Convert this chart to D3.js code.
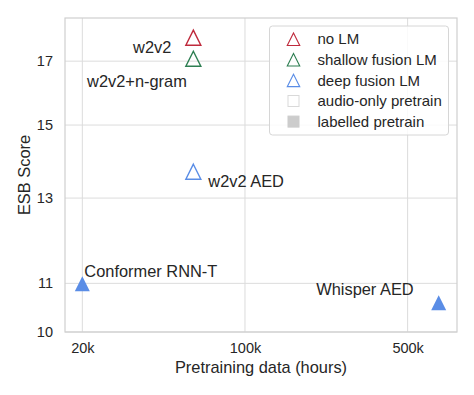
<!DOCTYPE html>
<html>
<head>
<meta charset="utf-8">
<script src="https://cdn.jsdelivr.net/npm/d3@7"></script>
<style>
  body { margin: 0; background: #fff; }
  text { font-family: "Liberation Sans", Arial, sans-serif; fill: #262626; }
</style>
</head>
<body>
<div id="chart"></div>
<script>
// data
var models   = ["w2v2", "w2v2+n-gram", "w2v2 AED", "Conformer RNN-T", "Whisper AED"];
var hours    = [60000, 60000, 60000, 20000, 680000];
var esb      = [17.8, 17.08, 13.69, 10.99, 10.59];
var lmType   = ["no LM", "shallow fusion LM", "deep fusion LM", "deep fusion LM", "deep fusion LM"];
var labelled = [false, false, false, true, true];

var xTicks      = [20000, 100000, 500000];
var xTickLabels = ["20k", "100k", "500k"];
var yTicks      = [10, 11, 13, 15, 17];

var lmTypes    = ["no LM", "shallow fusion LM", "deep fusion LM"];
var pretrains  = ["audio-only pretrain", "labelled pretrain"];

// layout
var width  = 474,
    height = 395,
    margin = {top: 18, right: 17, bottom: 63, left: 65};

var colour = d3.scaleOrdinal().domain(lmTypes).range(["#bf2a3c", "#2e7f52", "#5a8de6"]);

// label placement relative to each point [dx, dy, anchor]
var labelPos = [
  [-22, 10, "end"],
  [-6.5, 22, "end"],
  [15, 10, "start"],
  [2, -13, "start"],
  [-25, -13, "end"]
];

var svg = d3.select("#chart").append("svg")
  .attr("width", width)
  .attr("height", height);

var x = d3.scaleLog()
  .domain([16850, 815000])
  .range([margin.left, width - margin.right]);

var y = d3.scaleLog()
  .domain([10, 18.5])
  .range([height - margin.bottom, margin.top]);

// grid
svg.append("g").selectAll("line").data(xTicks).join("line")
  .attr("x1", d => x(d)).attr("x2", d => x(d))
  .attr("y1", margin.top).attr("y2", height - margin.bottom)
  .attr("stroke", "#dcdcdc").attr("stroke-width", 1);

svg.append("g").selectAll("line").data(yTicks).join("line")
  .attr("x1", margin.left).attr("x2", width - margin.right)
  .attr("y1", d => y(d)).attr("y2", d => y(d))
  .attr("stroke", "#dcdcdc").attr("stroke-width", 1);

// frame
svg.append("rect")
  .attr("x", margin.left).attr("y", margin.top)
  .attr("width", width - margin.left - margin.right)
  .attr("height", height - margin.top - margin.bottom)
  .attr("fill", "none").attr("stroke", "#cfcfcf").attr("stroke-width", 1.2);

// axes (tick text only, like seaborn whitegrid)
var xAxis = d3.axisBottom(x).tickValues(xTicks).tickFormat((d, i) => xTickLabels[i]).tickSize(0).tickPadding(11);
svg.append("g")
  .attr("transform", "translate(0," + (height - margin.bottom) + ")")
  .call(xAxis)
  .call(g => g.select(".domain").remove())
  .selectAll("text").style("font-size", "14.5px").attr("fill", "#262626")
  .style("font-family", "Liberation Sans, Arial, sans-serif");

var yAxis = d3.axisLeft(y).tickValues(yTicks).tickFormat(d3.format("d")).tickSize(0).tickPadding(12);
svg.append("g")
  .attr("transform", "translate(" + margin.left + ",0)")
  .call(yAxis)
  .call(g => g.select(".domain").remove())
  .selectAll("text").style("font-size", "14.5px").attr("fill", "#262626")
  .style("font-family", "Liberation Sans, Arial, sans-serif");

svg.append("text")
  .attr("x", (margin.left + width - margin.right) / 2)
  .attr("y", 373)
  .attr("text-anchor", "middle")
  .style("font-size", "16.4px")
  .text("Pretraining data (hours)");

svg.append("text")
  .attr("transform", "translate(24," + ((margin.top + height - margin.bottom) / 2) + ") rotate(-90)")
  .attr("dy", "0.35em")
  .attr("text-anchor", "middle")
  .style("font-size", "16.4px")
  .text("ESB Score");

// matplotlib-style '^' marker, centred on its bounding box
function triangle(s) {
  var h = s / 2;
  return "M0," + (-h) + "L" + h + "," + h + "L" + (-h) + "," + h + "Z";
}

svg.append("g").selectAll("path").data(models).join("path")
  .attr("transform", (d, i) => "translate(" + x(hours[i]) + "," + y(esb[i]) + ")")
  .attr("d", triangle(15))
  .attr("fill", (d, i) => labelled[i] ? colour(lmType[i]) : "none")
  .attr("stroke", (d, i) => colour(lmType[i]))
  .attr("stroke-width", (d, i) => labelled[i] ? 0 : 1.4)
  .attr("stroke-linejoin", "miter");

svg.append("g").selectAll("text").data(models).join("text")
  .attr("x", (d, i) => x(hours[i]) + labelPos[i][0])
  .attr("y", (d, i) => y(esb[i]) + labelPos[i][1])
  .attr("dy", "0.35em")
  .attr("text-anchor", (d, i) => labelPos[i][2])
  .style("font-size", "16.4px")
  .text(d => d);

// legend
var legend = svg.append("g").attr("transform", "translate(269.5,26)");
legend.append("rect")
  .attr("width", 179).attr("height", 109)
  .attr("rx", 3).attr("ry", 3)
  .attr("fill", "#fff").attr("fill-opacity", 0.85)
  .attr("stroke", "#d6d6d6").attr("stroke-width", 1);

var entries = lmTypes.map(t => ({label: t, kind: "lm"}))
  .concat(pretrains.map((t, i) => ({label: t, kind: "pre", filled: i === 1})));

var row = legend.selectAll("g.entry").data(entries).join("g")
  .attr("class", "entry")
  .attr("transform", (d, i) => "translate(24," + (13.2 + i * 20.6) + ")");

row.filter(d => d.kind === "lm").append("path")
  .attr("d", triangle(12.5))
  .attr("fill", "none")
  .attr("stroke", d => colour(d.label))
  .attr("stroke-width", 1.1);

row.filter(d => d.kind === "pre").append("rect")
  .attr("x", -5.5).attr("y", -5.5).attr("width", 11).attr("height", 11)
  .attr("fill", d => d.filled ? "#cccccc" : "#fff")
  .attr("stroke", d => d.filled ? "#cccccc" : "#d9d9d9")
  .attr("stroke-width", 1);

row.append("text")
  .attr("x", 24)
  .attr("dy", "0.35em")
  .style("font-size", "15px")
  .text(d => d.label);
</script>
</body>
</html>
